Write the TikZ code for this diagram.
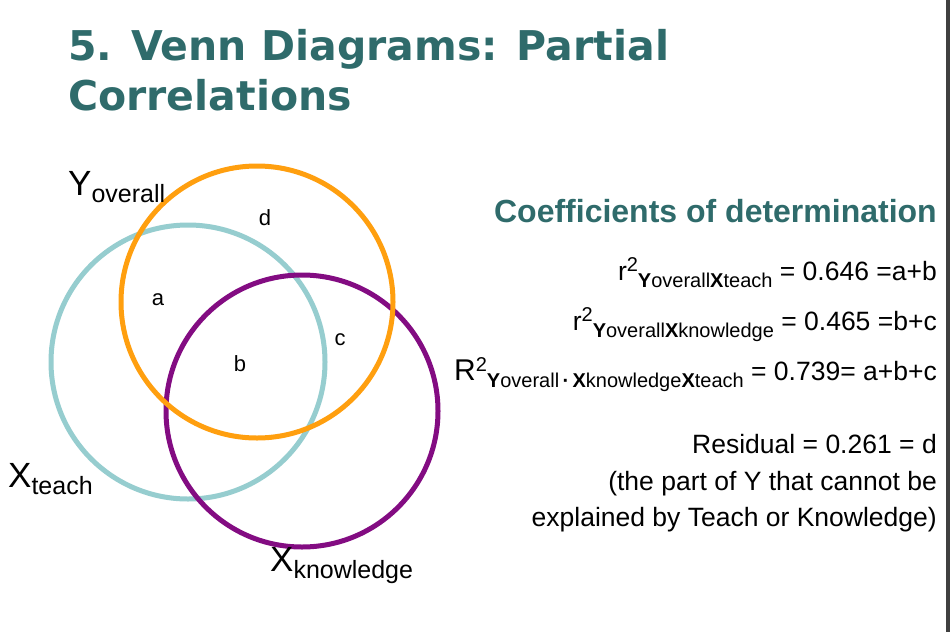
\documentclass[tikz,border=0pt]{standalone}
\usepackage{fontspec}
\setmainfont{Liberation Sans}
\newfontfamily\titlefont{DejaVu Sans}
\definecolor{ttl}{HTML}{2F6B6B}
\definecolor{cteal}{HTML}{96CDCF}
\definecolor{corange}{HTML}{FF9F0F}
\definecolor{cpurple}{HTML}{830C82}
\begin{document}
\begin{tikzpicture}[x=1pt,y=-1pt,
  ring/.style={line width=5pt},
  lbl/.style={inner sep=0pt,font=\fontsize{22}{24}\selectfont},
  eq/.style={anchor=base east,inner sep=0pt,font=\fontsize{26.5}{30}\selectfont},
  ttlstyle/.style={anchor=base west,inner sep=0pt,text=ttl,font=\titlefont\bfseries\fontsize{41}{48}\selectfont},
  big/.style={anchor=base west,inner sep=0pt,font=\fontsize{35}{38}\selectfont}]
\useasboundingbox (0,0) rectangle (950,632);
\fill[white] (0,0) rectangle (950,632);
\fill[black!75] (946,0) rectangle (950,632);
\node[ttlstyle] (title1) at (68,60) {5. Venn Diagrams: Partial};
\node[ttlstyle] (title2) at (68,110) {Correlations};
\draw[ring,cteal] (188,362) circle (137) node (teach) {};
\draw[ring,cpurple] (302,411) circle (136) node (know) {};
\draw[ring,corange] (257,302) circle (136) node (over) {};
\node[lbl] (d) at (265,218) {d};
\node[lbl] (a) at (158,300) {a};
\node[lbl] (b) at (240,364) {b};
\node[lbl] (c) at (340,340) {c};
\newcommand{\bsub}[1]{\raisebox{-7pt}{\fontsize{25}{26}\selectfont #1}}
\node[big] (ly) at (68,195) {Y\bsub{overall}};
\node[big] (lt) at (8,487) {X\bsub{teach}};
\node[big] (lk) at (270,571) {X\bsub{knowledge}};
\node[anchor=base east,inner sep=0pt,text=ttl,font=\bfseries\fontsize{32}{34}\selectfont] (coef) at (937,222) {Coefficients of determination};
\newcommand{\sbx}[1]{\raisebox{-7pt}{\fontsize{20}{22}\selectfont #1}}
\newcommand{\spx}{\raisebox{9pt}{\fontsize{20}{22}\selectfont 2}}
\node[eq] (e1) at (937,280) {r\spx\sbx{\textbf{Y}overall\textbf{X}teach} = 0.646 =a+b};
\node[eq] (e2) at (937,330) {r\spx\sbx{\textbf{Y}overall\textbf{X}knowledge} = 0.465 =b+c};
\node[eq] (e3) at (937,380) {\fontsize{30}{32}\selectfont R\spx\sbx{\textbf{Y}overall\,\textbf{\textperiodcentered}\,\textbf{X}knowledge\textbf{X}teach}\fontsize{26.5}{30}\selectfont{} = 0.739= a+b+c};
\node[eq] (r1) at (937,453) {Residual = 0.261 = d};
\node[eq] (r2) at (937,490) {(the part of Y that cannot be};
\node[eq] (r3) at (937,526) {explained by Teach or Knowledge)};
\end{tikzpicture}
\end{document}
